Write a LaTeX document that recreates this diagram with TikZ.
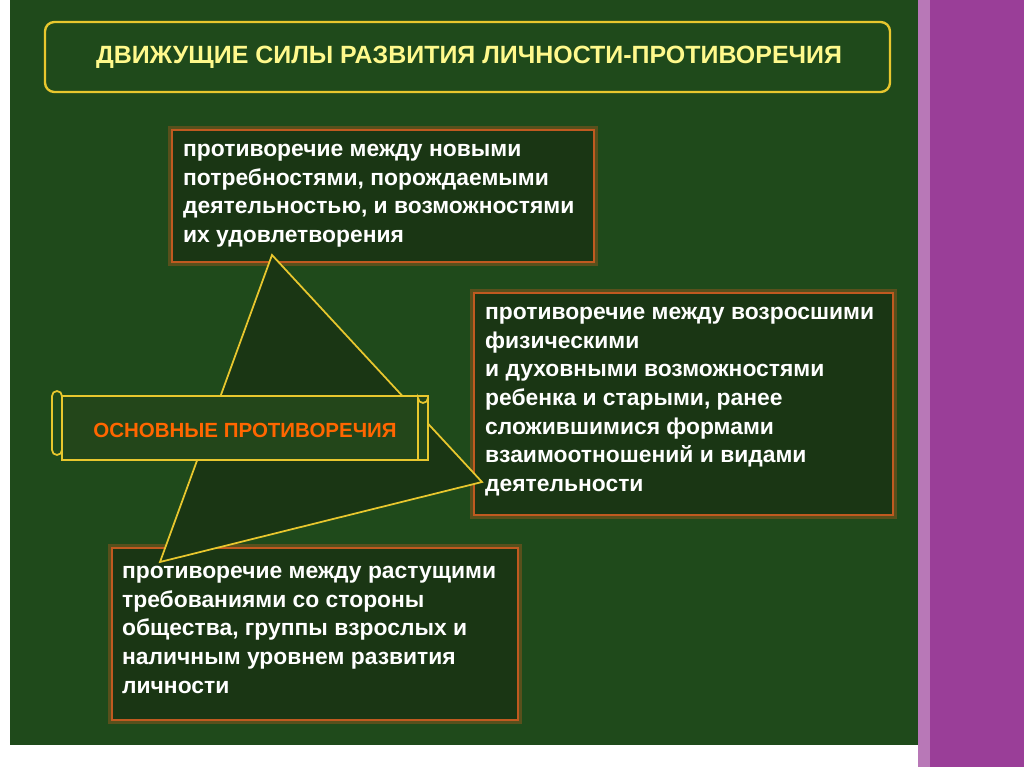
\documentclass[tikz,border=0pt]{standalone}
\usepackage{fontspec}
\setmainfont{Liberation Sans}
\definecolor{board}{HTML}{1F4A1B}
\definecolor{boxfill}{HTML}{1A3614}
\definecolor{gold}{HTML}{E8C72E}
\definecolor{rust}{HTML}{C05A20}
\definecolor{plum}{HTML}{9A3E98}
\definecolor{scrollfill}{HTML}{23461A}
\tikzset{
  textbox/.style={draw=rust, line width=1.2pt, fill=boxfill, inner sep=0pt},
  boxtext/.style={text=white, font=\bfseries\fontsize{19.5}{24.5}\selectfont, align=left, anchor=north west},
}
\begin{document}
\begin{tikzpicture}[x=0.03cm, y=-0.03cm]
 \useasboundingbox (0,0) rectangle (1024,767);
 \fill[white] (0,0) rectangle (1024,767);
 \fill[board] (10,0) rectangle (918,745);
 \fill[plum] (918,0) rectangle (1024,767);
 \fill[plum!70!white] (918,0) rectangle (930,767);

 % title
 \draw[gold, line width=2pt, fill=board, rounded corners=8pt] (45,22) rectangle (890,92);
 \node[text=yellow!45!white, font=\bfseries\fontsize{21.3}{25}\selectfont] (title) at (469,57) {ДВИЖУЩИЕ СИЛЫ РАЗВИТИЯ ЛИЧНОСТИ-ПРОТИВОРЕЧИЯ};

 % boxes with glow
 \foreach \a/\b/\c/\d in {172/130/594/262, 474/293/893/515, 112/548/518/720}{
   \draw[rust!60!board, line width=7pt, opacity=.6] (\a,\b) rectangle (\c,\d);
   \draw[textbox] (\a,\b) rectangle (\c,\d);
 }

 % triangle
 \coordinate (top) at (272,255);
 \coordinate (right) at (482,482);
 \coordinate (left) at (160,562);
 \draw[gold, line width=1.5pt, fill=boxfill] (top) -- (right) -- (left) -- cycle;

 % scroll banner
 \draw[gold, line width=1.5pt, fill=scrollfill] (62,396) rectangle (428,460);
 \draw[gold, line width=1.5pt] (62,396) arc (0:-180:5) -- (52,450) arc (180:0:5);
 \draw[gold, line width=1.5pt] (418,460) -- (418,398) arc (180:0:5) -- (428,396);
 \node[text=orange!80!red, font=\bfseries\fontsize{17.5}{20}\selectfont] (banner) at (245,430) {ОСНОВНЫЕ ПРОТИВОРЕЧИЯ};

 \node[boxtext] (first) at (179,140) {противоречие между новыми\\потребностями,  порождаемыми\\деятельностью, и возможностями\\их удовлетворения};
 \node[boxtext] (second) at (481,303) {противоречие между возросшими\\физическими\\и  духовными  возможностями\\ребенка и старыми,  ранее\\сложившимися формами\\взаимоотношений и видами\\деятельности};
 \node[boxtext] (third) at (118,562) {противоречие между растущими\\требованиями со стороны\\общества,  группы взрослых  и\\наличным уровнем   развития\\личности};
\end{tikzpicture}
\end{document}
